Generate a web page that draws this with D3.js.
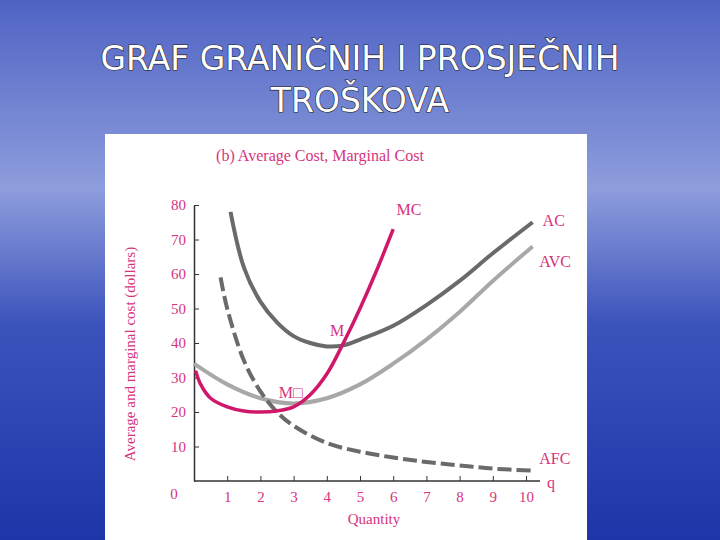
<!DOCTYPE html>
<html>
<head>
<script src="https://cdn.jsdelivr.net/npm/d3@7"></script>
<style>body{margin:0;}</style>
</head>
<body>
<script>
var acData = [[1.1,78],[1.5,62],[2,52],[2.5,46],[3,42],[3.5,40],[4,39],[4.5,39.3],[5,41],[6,45],[7,51],[8,58],[9,66],[10.2,75]];
var avcData = [[0,34],[1,28],[2,24],[3,22.5],[4,24],[5,28],[6,34],[7,41],[8,49],[9,58],[10.2,68]];
var afcData = [[0.8,59],[1,50],[1.5,35],[2,26],[2.5,20],[3,16],[4,11],[5,8.5],[6,6.8],[7,5.5],[8,4.5],[9,3.6],[10.2,3]];
var mcData = [[0.05,32],[0.2,28],[0.5,24],[1,21.5],[1.5,20.3],[2,20],[2.5,20.3],[3,21.5],[3.5,25],[4,31],[4.5,40],[5,50],[5.5,61],[6,73]];
var xTicks = [1,2,3,4,5,6,7,8,9,10];
var yTicks = [10,20,30,40,50,60,70,80];

var pink = "#d6337e", magenta = "#d0186a";
var svg = d3.select("body").append("svg").attr("width",720).attr("height",540);
var defs = svg.append("defs");
var g = defs.append("linearGradient").attr("id","bg").attr("x1",0).attr("y1",0).attr("x2",0).attr("y2",1);
g.append("stop").attr("offset","0").attr("stop-color","#4f63c4");
g.append("stop").attr("offset","0.35").attr("stop-color","#8e9ddc");
g.append("stop").attr("offset","0.6").attr("stop-color","#3c53bd");
g.append("stop").attr("offset","1").attr("stop-color","#1d35a8");
svg.append("rect").attr("width",720).attr("height",540).attr("fill","url(#bg)");

["GRAF GRANIČNIH I PROSJEČNIH","TROŠKOVA"].forEach(function(t,i){
  svg.append("text").attr("x",360).attr("y",70+i*42).attr("text-anchor","middle")
    .attr("font-family","DejaVu Sans, sans-serif").attr("font-size",33)
    .attr("fill","white").attr("stroke","#222").attr("stroke-width",1.2).attr("paint-order","stroke").text(t);
});

svg.append("rect").attr("x",105).attr("y",134).attr("width",482).attr("height",406).attr("fill","white");

var x = d3.scaleLinear().domain([0,10]).range([194,526]);
var y = d3.scaleLinear().domain([0,80]).range([481,205]);
var serif = "Liberation Serif, Times New Roman, serif";

svg.append("text").attr("x",320).attr("y",161).attr("text-anchor","middle").attr("font-family",serif)
  .attr("font-size",16).attr("fill",pink).text("(b) Average Cost, Marginal Cost");

var ax = svg.append("g").attr("transform","translate(0,481)")
  .call(d3.axisBottom(x).tickValues(xTicks).tickSize(-5).tickPadding(10).tickSizeOuter(0));
ax.select(".domain").attr("d","M194,0H540").attr("stroke","#333").attr("stroke-width",1.5);
var ay = svg.append("g").attr("transform","translate(194,0)")
  .call(d3.axisLeft(y).tickValues(yTicks).tickSize(-5).tickPadding(8).tickSizeOuter(0));
ay.select(".domain").attr("stroke","#333").attr("stroke-width",1.5);
svg.selectAll(".tick text").attr("font-family",serif).attr("font-size",15).attr("fill",pink);
svg.selectAll(".tick line").attr("stroke","#333");
svg.append("text").attr("x",174).attr("y",499).attr("text-anchor","middle").attr("font-family",serif).attr("font-size",15).attr("fill",pink).text("0");
svg.append("text").attr("x",547).attr("y",488).attr("font-family",serif).attr("font-size",16).attr("fill",pink).text("q");
svg.append("text").attr("x",374).attr("y",524).attr("text-anchor","middle").attr("font-family",serif).attr("font-size",15).attr("fill",pink).text("Quantity");
svg.append("text").attr("transform","translate(135,354) rotate(-90)").attr("text-anchor","middle").attr("font-family",serif).attr("font-size",15).attr("fill",pink).text("Average and marginal cost (dollars)");

var line = d3.line().x(function(d){return x(d[0]);}).y(function(d){return y(d[1]);}).curve(d3.curveCatmullRom);
svg.append("path").datum(avcData).attr("d",line).attr("fill","none").attr("stroke","#a8a8a8").attr("stroke-width",4);
svg.append("path").datum(acData).attr("d",line).attr("fill","none").attr("stroke","#6a6a6a").attr("stroke-width",4);
svg.append("path").datum(afcData).attr("d",line).attr("fill","none").attr("stroke","#6a6a6a").attr("stroke-width",4).attr("stroke-dasharray","14,5");
svg.append("path").datum(mcData).attr("d",line).attr("fill","none").attr("stroke",magenta).attr("stroke-width",3.5);

var labels = [["MC",6.1,77],["AC",10.5,74],["AVC",10.4,62],["AFC",10.4,5],["M",4.1,42],["M\u25a1",2.55,24]];
svg.selectAll(".lbl").data(labels).enter().append("text").attr("x",function(d){return x(d[1]);}).attr("y",function(d){return y(d[2]);})
  .attr("font-family",serif).attr("font-size",16).attr("fill",pink).text(function(d){return d[0];});
</script>
</body>
</html>
